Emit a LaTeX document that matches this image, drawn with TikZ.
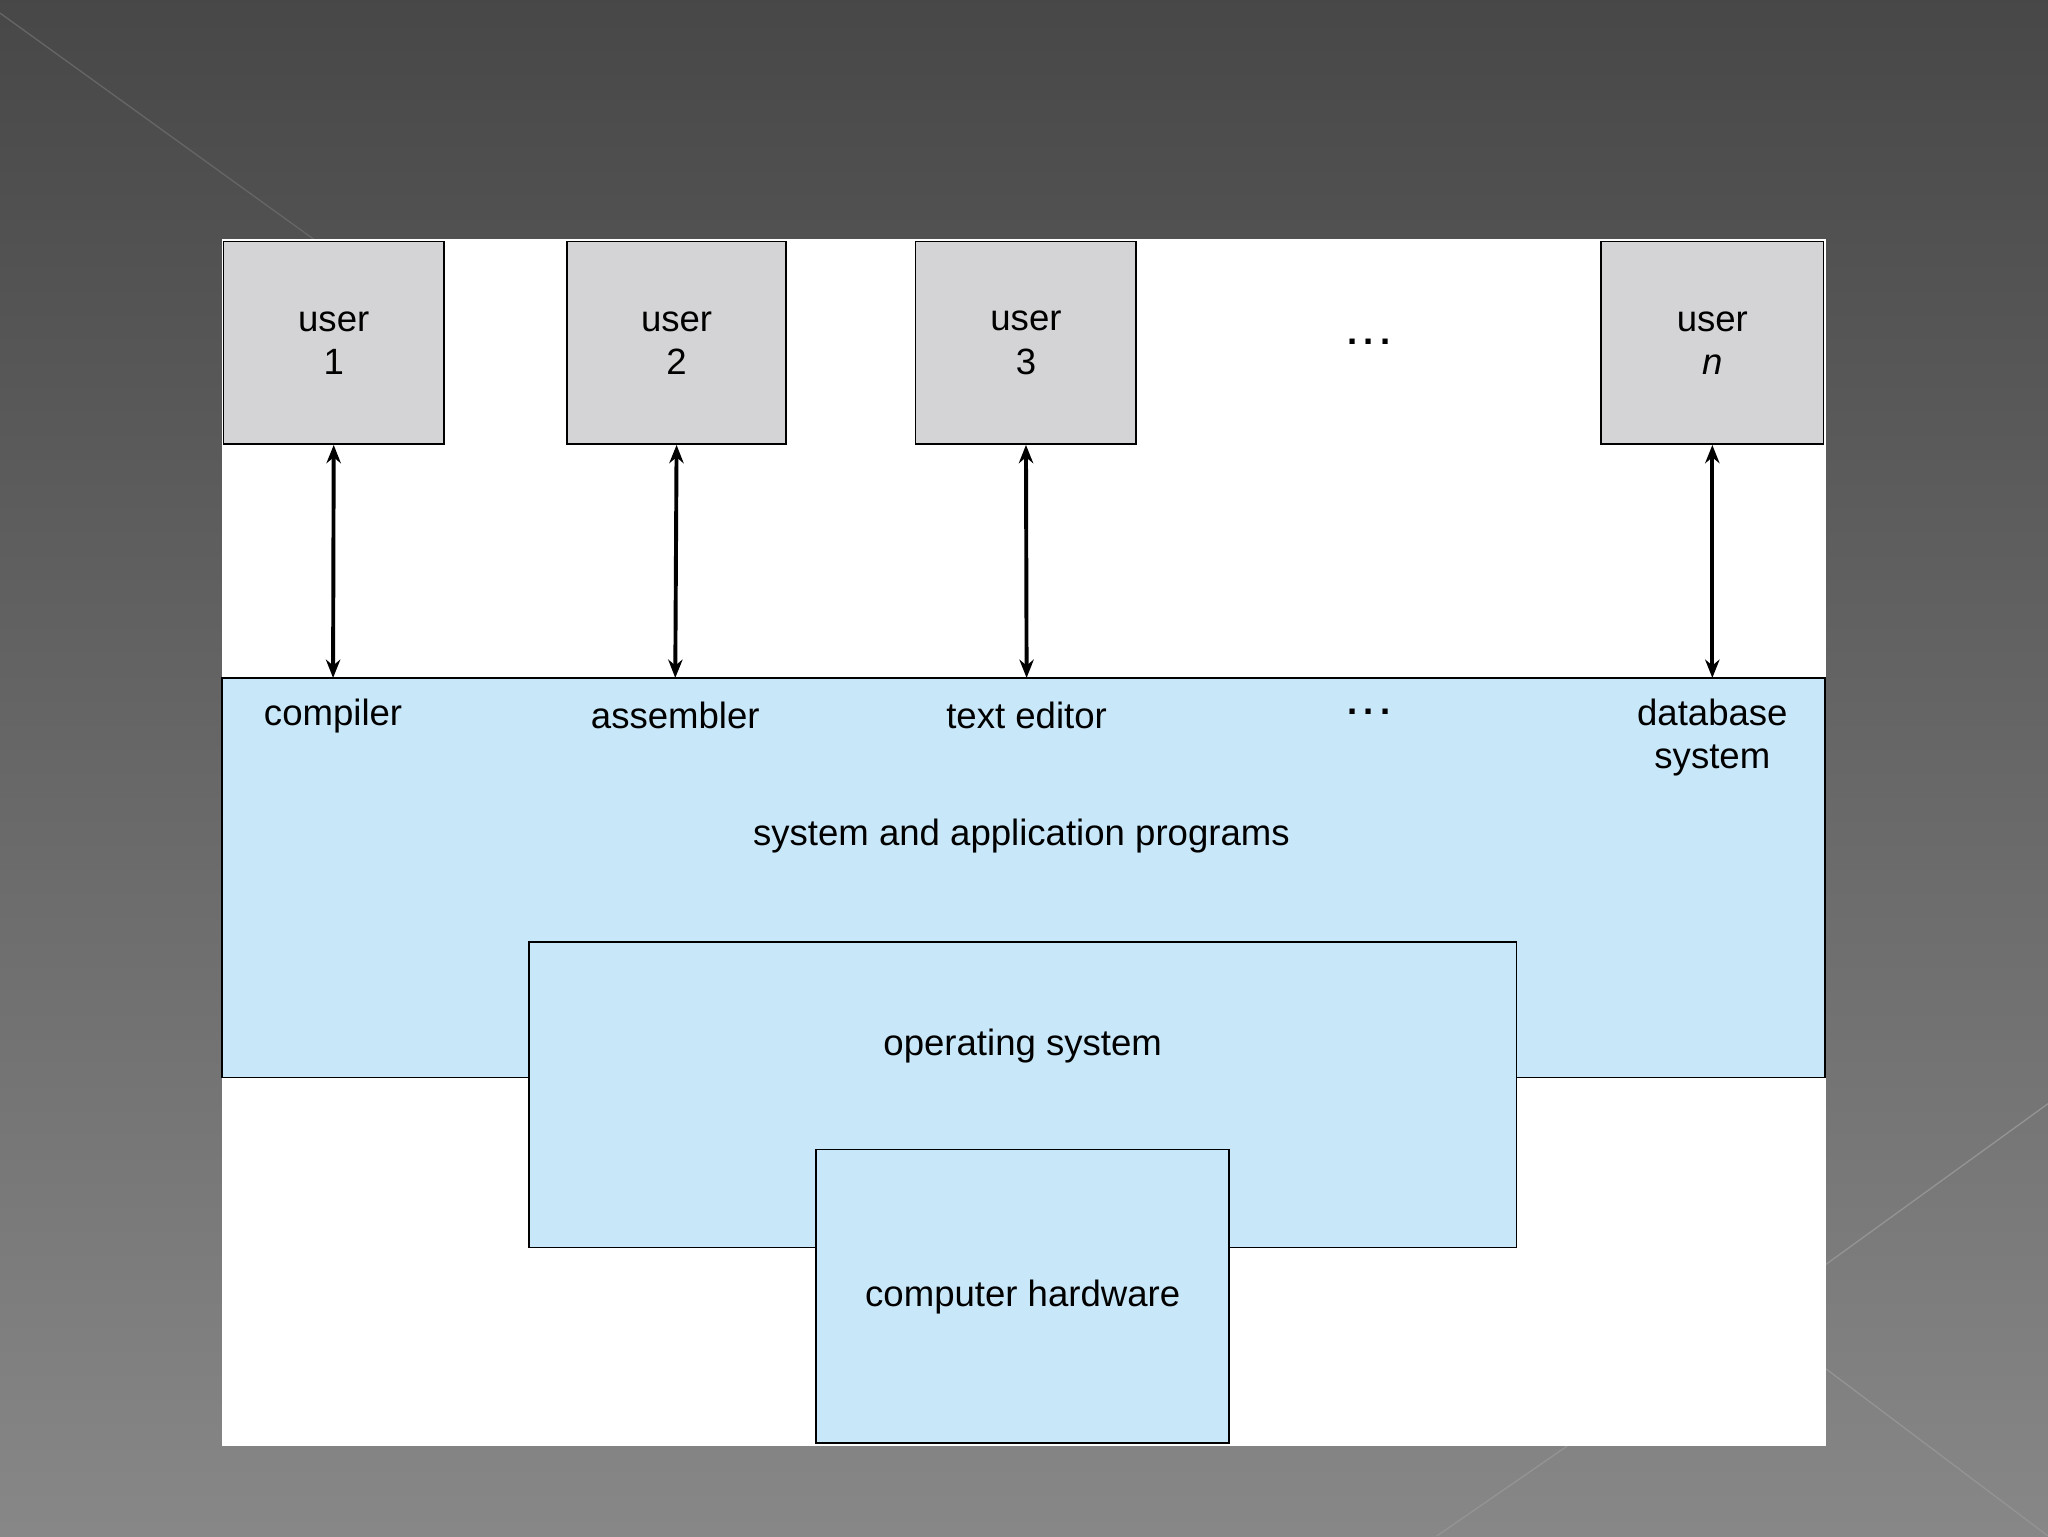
\documentclass[tikz,border=0pt]{standalone}
\usepackage{fontspec}
\setmainfont{Liberation Sans}
\usetikzlibrary{arrows.meta}
\definecolor{ublue}{HTML}{C8E7F8}
\definecolor{ugray}{HTML}{D4D4D6}
\begin{document}
\begin{tikzpicture}[x=1pt,y=-1pt,
  box/.style={draw=black,line width=1.3pt,inner sep=0pt},
  lbl/.style={font=\fontsize{28}{33}\selectfont,align=center},
  arr/.style={line width=3pt,{Stealth[length=14pt,width=11pt]}-{Stealth[length=14pt,width=11pt]}}]
\useasboundingbox (0,0) rectangle (1568,1176);
\shade[top color=black!72,bottom color=black!47] (0,0) rectangle (1568,1176);
\draw[black!60,line width=1pt] (0,10) -- (240,183);
\draw[black!42,line width=1pt] (1568,845) -- (1398,968);
\draw[black!42,line width=1pt] (1398,1048) -- (1568,1176);
\draw[black!42,line width=1pt] (1100,1176) -- (1200,1107);
\fill[white] (170,183) rectangle (1398,1107);
% users
\node[box,fill=ugray,minimum width=169pt,minimum height=155pt,lbl] (u1) at (255.5,262.5) {user\\1};
\node[box,fill=ugray,minimum width=168pt,minimum height=155pt,lbl] (u2) at (518,262.5) {user\\2};
\node[box,fill=ugray,minimum width=169pt,minimum height=155pt,lbl] (u3) at (785.5,262.5) {user\\3};
\node[box,fill=ugray,minimum width=170pt,minimum height=155pt,lbl] (un) at (1311,262.5) {user\\\textit{n}};
\node[lbl] (d1) at (1048,262) {\textbf{.\,.\,.}};
% programs
\node[box,fill=ublue,minimum width=1227pt,minimum height=306pt] (sys) at (783.5,672) {};
\node[box,fill=ublue,minimum width=756pt,minimum height=234pt] (os) at (783,838) {};
\node[box,fill=ublue,minimum width=316pt,minimum height=225pt] (hw) at (783,992.5) {};
\coordinate (c1) at (255,519);
\coordinate (c2) at (517,519);
\coordinate (c3) at (786,519);
\coordinate (cn) at (1311,519);
\node[lbl] (comp) at (255,548) {compiler};
\node[lbl] (asm) at (517,548) {assembler};
\node[lbl] (ted) at (786,548) {text editor};
\node[lbl] (d2) at (1048,545) {\textbf{.\,.\,.}};
\node[lbl] (db) at (1311,565) {database\\system};
\node[lbl] (sap) at (782,640) {system and application programs};
\node[lbl] (ost) at (783,801) {operating system};
\node[lbl] (hwt) at (783,993) {computer hardware};
\draw[arr] (u1.south) -- (c1);
\draw[arr] (u2.south) -- (c2);
\draw[arr] (u3.south) -- (c3);
\draw[arr] (un.south) -- (cn);
\end{tikzpicture}
\end{document}
